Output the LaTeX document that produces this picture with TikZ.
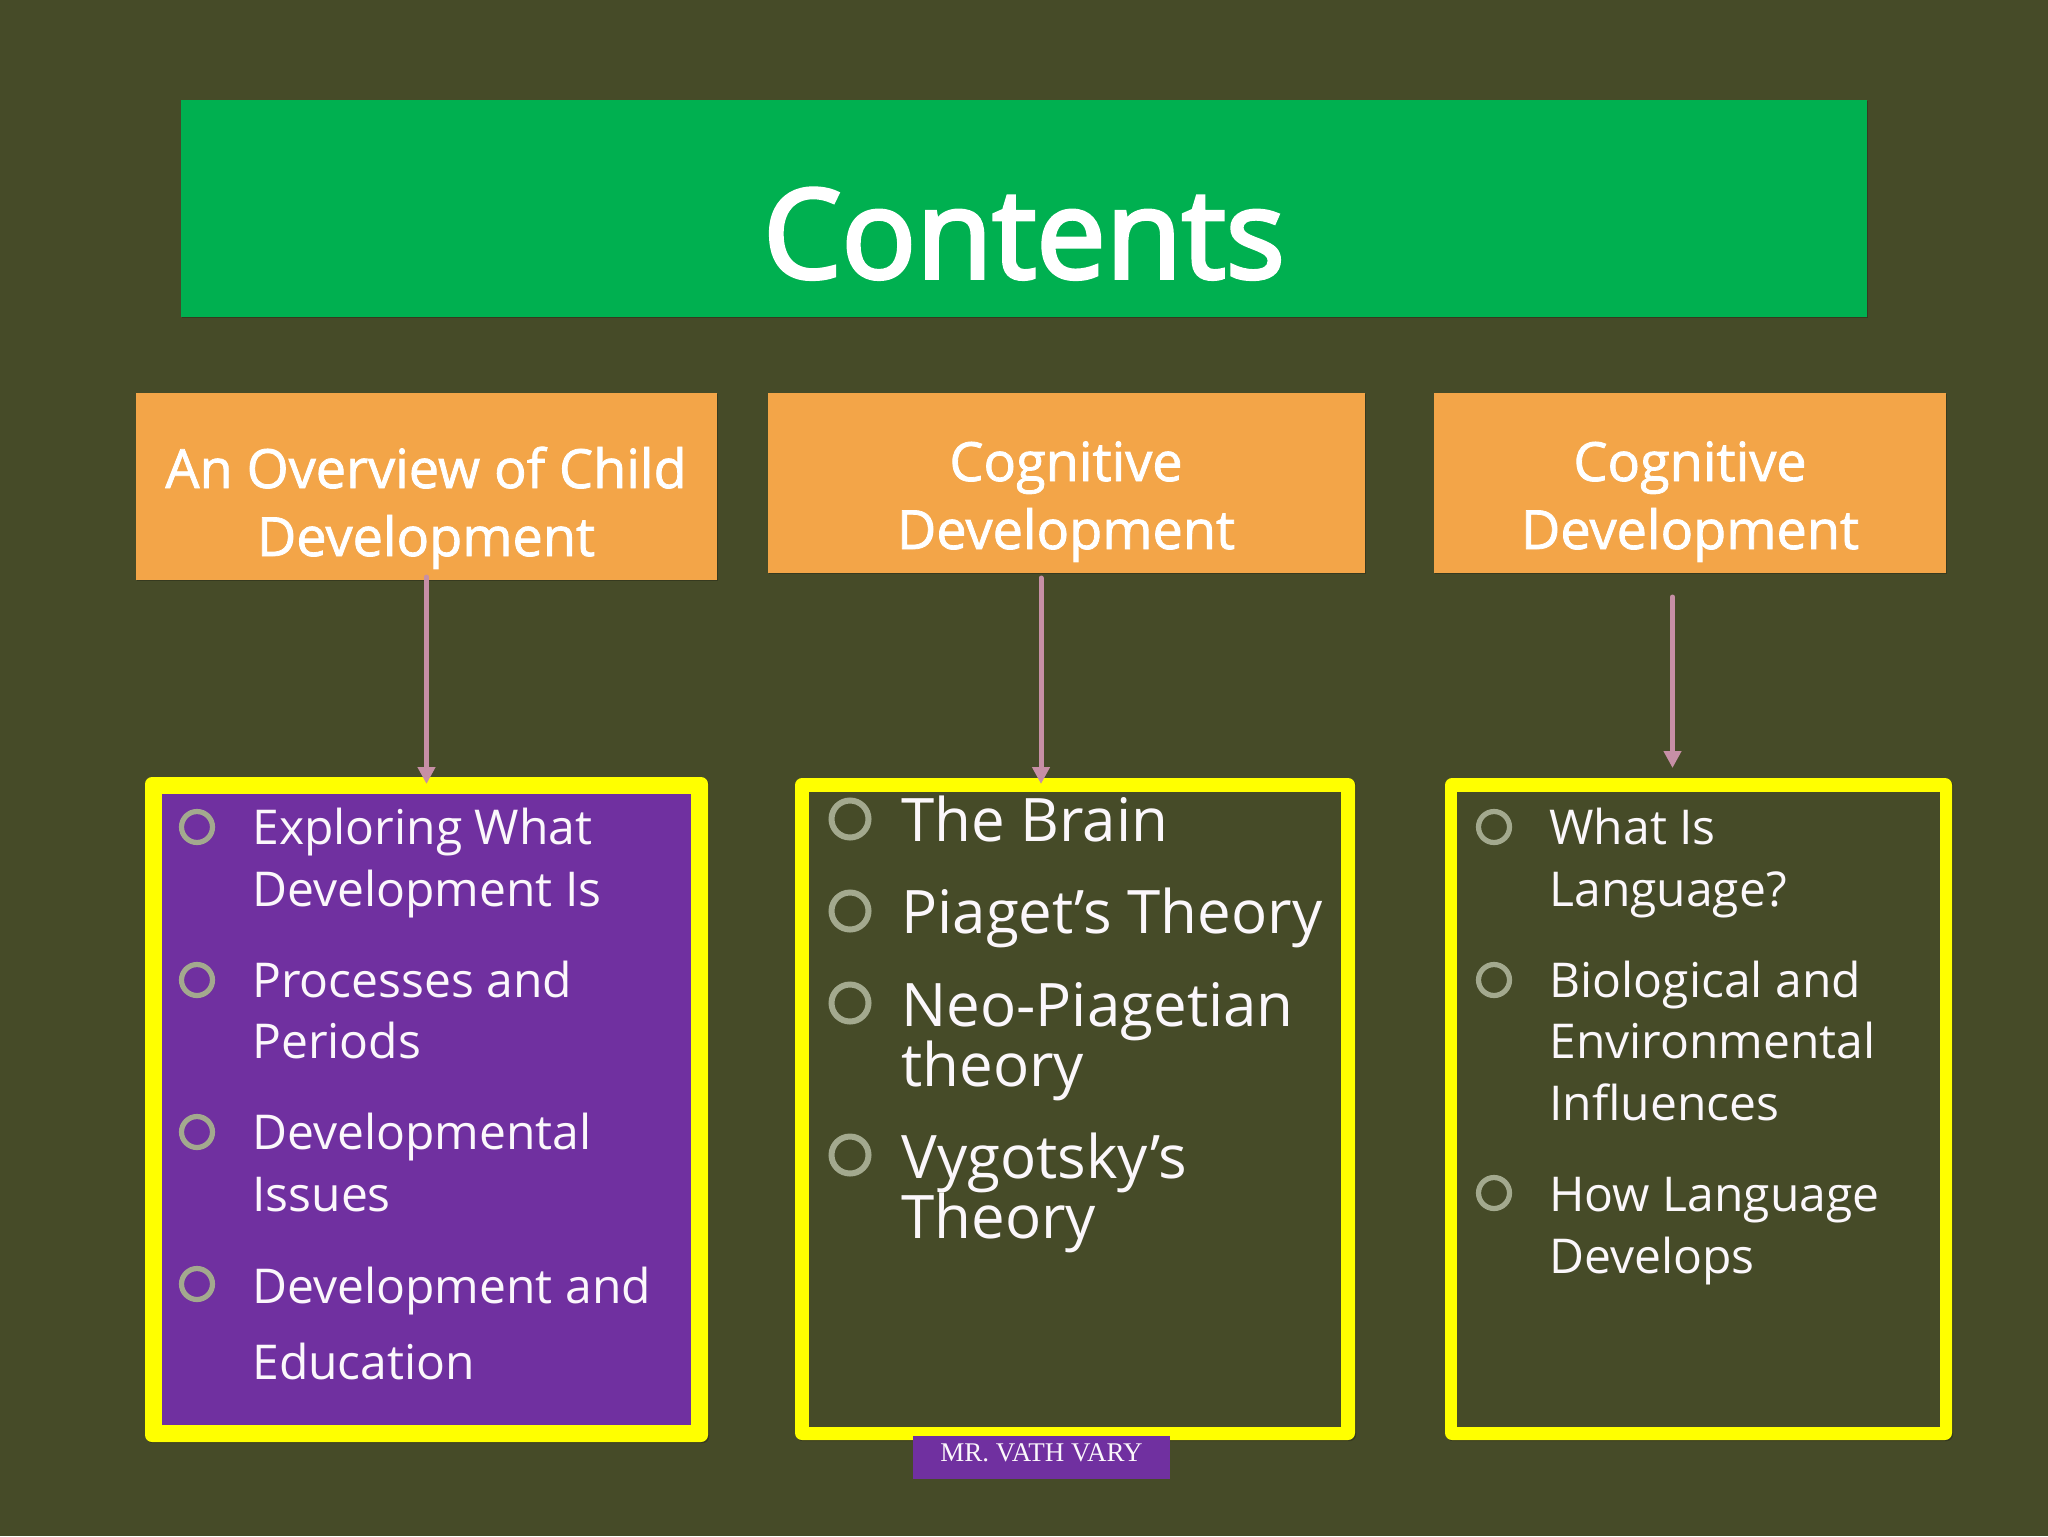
\documentclass[tikz,border=0pt]{standalone}
\usepackage{fontspec}
\setmainfont{Open Sans}
\newfontfamily\footfont{Liberation Serif}
\newfontfamily\headfont[FakeBold=1.5]{Open Sans}
\newfontfamily\titlefont[FakeBold=3]{Open Sans}
\usetikzlibrary{arrows.meta,shadows}
\definecolor{bgolive}{HTML}{464B28}
\definecolor{titlegreen}{HTML}{00B050}
\definecolor{headorange}{HTML}{F3A548}
\definecolor{arrowpink}{HTML}{C78FA6}
\definecolor{boxpurple}{HTML}{7030A0}
\definecolor{ringgrey}{HTML}{A3A98E}
\definecolor{softwhite}{HTML}{FBF7FB}
\definecolor{framey}{HTML}{FFFF00}
\tikzset{
  softshadow/.style={drop shadow={shadow xshift=0.6pt,shadow yshift=-0.6pt,opacity=.22,fill=black}},
  panel/.style={rectangle,minimum width=#1,inner sep=0pt,outer sep=0pt,fill=headorange,softshadow},
  headtext/.style={text=white,align=center,font=\headfont\fontsize{27}{34}\selectfont,inner sep=0pt},
  frameouter/.style={rectangle,fill=framey,rounded corners=3.5pt,inner sep=0pt,outer sep=0pt,softshadow},
  frameinner/.style={rectangle,inner sep=0pt,outer sep=0pt},
  ring/.style={circle,draw=ringgrey,inner sep=0pt,outer sep=0pt},
  itemtext/.style={text=softwhite,anchor=base west,inner sep=0pt,align=left},
  linkarrow/.style={draw=arrowpink,line width=2.5pt,line cap=round,-{Triangle[length=8.5pt,width=8.5pt,fill=arrowpink]}},
  c1/.style={itemtext,font=\fontsize{24}{30.75}\selectfont},
  c2/.style={itemtext,font=\fontsize{30}{30}\selectfont},
  r1/.style={ring,line width=2.6pt,minimum size=15.5pt},
  r2/.style={ring,line width=3pt,minimum size=18.5pt}
}
\begin{document}
\begin{tikzpicture}[x=0.5pt,y=-0.5pt]
\path[use as bounding box,fill=bgolive] (0,0) rectangle (2048,1536);
% title
\node[rectangle,fill=titlegreen,inner sep=0pt,outer sep=0pt,minimum width=842.75pt,minimum height=108.5pt,softshadow] (title) at (1024,208.5) {};
\node[anchor=base,text=white,inner sep=0pt,font=\titlefont\fontsize{62}{70}\selectfont] (titletext) at (1024,278) {Contents};
% headers
\node[panel=290.5pt,minimum height=93.5pt] (h1) at (426.5,486.5) {};
\node[panel=298.5pt,minimum height=90pt] (h2) at (1066.5,483) {};
\node[panel=256pt,minimum height=90pt] (h3) at (1690,483) {};
\node[headtext,anchor=base] (h1a) at (426,488) {An Overview of Child};
\node[headtext,anchor=base] (h1b) at (426,556) {Development};
\node[headtext,anchor=base] (h2a) at (1066,481) {Cognitive};
\node[headtext,anchor=base] (h2b) at (1066,549) {Development};
\node[headtext,anchor=base] (h3a) at (1690,481) {Cognitive};
\node[headtext,anchor=base] (h3b) at (1690,549) {Development};
% list boxes
\node[frameouter,minimum width=281.5pt,minimum height=332.5pt] (b1) at (426.5,1109.5) {};
\node[frameinner,fill=boxpurple,minimum width=264.5pt,minimum height=315.5pt] (b1i) at (426.5,1109.5) {};
\node[frameouter,minimum width=280pt,minimum height=331pt] (b2) at (1075,1109) {};
\node[frameinner,fill=bgolive,minimum width=266pt,minimum height=317.5pt] (b2i) at (1075,1109.5) {};
\node[frameouter,minimum width=253.5pt,minimum height=331pt] (b3) at (1698.5,1109) {};
\node[frameinner,fill=bgolive,minimum width=241.5pt,minimum height=317.5pt] (b3i) at (1698.5,1109.5) {};
% footer
\node[rectangle,fill=boxpurple,inner sep=0pt,outer sep=0pt,minimum width=128.5pt,minimum height=21.5pt] (footbox) at (1041.5,1457.5) {};
\node[text=softwhite,inner sep=0pt,anchor=base,font=\footfont\fontsize{13.5}{15}\selectfont] (foot) at (1041.5,1461) {MR. VATH VARY};
% arrows
\coordinate (a2s) at (1041,578);
\coordinate (a2e) at (1041,784);
\coordinate (a3s) at (1672.5,597);
\coordinate (a3e) at (1672.5,768);
\draw[linkarrow,shorten <=-1.5pt,shorten >=-3.5pt] (h1.south) -- (b1.north);
\draw[linkarrow] (a2s) -- (a2e);
\draw[linkarrow] (a3s) -- (a3e);
% column 1
\node[r1] (r11) at (197,827) {};
\node[r1] (r12) at (197,980) {};
\node[r1] (r13) at (197,1132) {};
\node[r1] (r14) at (197,1284) {};
\node[c1] (t11) at (252,906) {Exploring What\\Development Is};
\node[c1] (t12) at (252,1058.5) {Processes and\\Periods};
\node[c1] (t13) at (252,1211) {Developmental\\Issues};
\node[c1] (t14) at (252,1379.5) {Development and\\[7.5pt]Education};
% column 2
\node[r2] (r21) at (850,819) {};
\node[r2] (r22) at (850,911) {};
\node[r2] (r23) at (850,1003) {};
\node[r2] (r24) at (850,1155) {};
\node[c2] (t21) at (901,841) {The Brain};
\node[c2] (t22) at (901,933.5) {Piaget’s Theory};
\node[c2] (t23) at (901,1086.5) {Neo-Piagetian\\theory};
\node[c2] (t24) at (901,1238) {Vygotsky’s\\Theory};
% column 3
\node[r1] (r31) at (1494,827) {};
\node[r1] (r32) at (1494,980) {};
\node[r1] (r33) at (1494,1193) {};
\node[c1] (t31) at (1549,906) {What Is\\Language?};
\node[c1] (t32) at (1549,1120) {Biological and\\Environmental\\Influences};
\node[c1] (t33) at (1549,1273) {How Language\\Develops};
\end{tikzpicture}
\end{document}
